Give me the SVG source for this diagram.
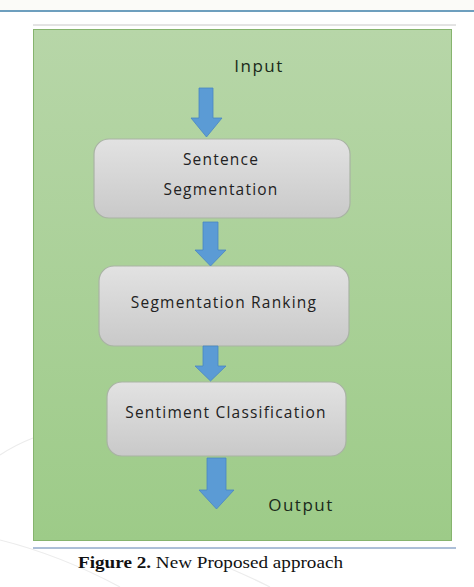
<svg xmlns="http://www.w3.org/2000/svg" width="474" height="587" viewBox="0 0 474 587">
<defs>
<linearGradient id="bg" x1="0" y1="0" x2="0" y2="1">
<stop offset="0" stop-color="#b7d6a8"/>
<stop offset="1" stop-color="#9dcb88"/>
</linearGradient>
<linearGradient id="box" x1="0" y1="0" x2="0" y2="1">
<stop offset="0" stop-color="#e2e2e2"/>
<stop offset="1" stop-color="#c9c9c9"/>
</linearGradient>
</defs>
<style>
.node rect{fill:url(#box);stroke:#a9b3a4;stroke-width:1.2}
.lbl{font-family:"Open Sans","Liberation Sans",sans-serif;font-size:15.5px;letter-spacing:1.2px;fill:#222;text-anchor:middle}
.io{font-family:"Open Sans","Liberation Sans",sans-serif;font-size:17px;letter-spacing:1.5px;fill:#1a2a1a;text-anchor:middle}
.arr{fill:#5b9bd5;stroke:#4a86c2;stroke-width:0.8}
.cap{font-family:"Liberation Serif",serif;font-size:17.5px;fill:#111}
</style>
<rect width="474" height="587" fill="#ffffff"/>
<rect x="0" y="0" width="474" height="10" fill="#fbfbf8"/>
<line x1="0" y1="11" x2="474" y2="11" stroke="#3d7fa8" stroke-width="1.6"/>
<g fill="none" stroke="#ececec" stroke-width="1.2">
<path d="M0 455 Q 15 445 33 438"/>
<path d="M0 540 Q 60 555 120 587"/>
<path d="M200 556 Q 240 572 270 587"/>
</g>
<line x1="33" y1="25" x2="456" y2="25" stroke="#c8c8c8" stroke-width="1"/>
<rect x="33.5" y="29.5" width="418" height="511" fill="url(#bg)" stroke="#86b46e" stroke-width="1"/>
<line x1="33" y1="548" x2="456" y2="548" stroke="#5b7fb0" stroke-width="1"/>
<g id="input"><text class="io" x="259" y="72">Input</text></g>
<g id="output"><text class="io" x="301" y="511">Output</text></g>
<g id="n1" class="node">
<rect x="94" y="139" width="256" height="79" rx="15"/>
<text class="lbl" x="221" y="165">Sentence</text>
<text class="lbl" x="221" y="195">Segmentation</text>
</g>
<g id="n2" class="node">
<rect x="99" y="266" width="250" height="80" rx="15"/>
<text class="lbl" x="224" y="308">Segmentation Ranking</text>
</g>
<g id="n3" class="node">
<rect x="107" y="382" width="239" height="74" rx="15"/>
<text class="lbl" x="226" y="418">Sentiment Classification</text>
</g>
<g id="connectors">
<path class="arr" d="M199 88 H213 V118 H222 L206.5 137 L191 118 H199 Z"/>
<path class="arr" d="M203 222 H218 V250 H226 L210.5 266 L195 250 H203 Z"/>
<path class="arr" d="M203 346 H218 V366 H226 L210.5 381 L195 366 H203 Z"/>
<path class="arr" d="M207 458 H226 V490 H234 L216.5 509 L199 490 H207 Z"/>
</g>
<text class="cap" x="78" y="568" textLength="265" lengthAdjust="spacingAndGlyphs"><tspan font-weight="bold">Figure 2.</tspan> New Proposed approach</text>
</svg>
